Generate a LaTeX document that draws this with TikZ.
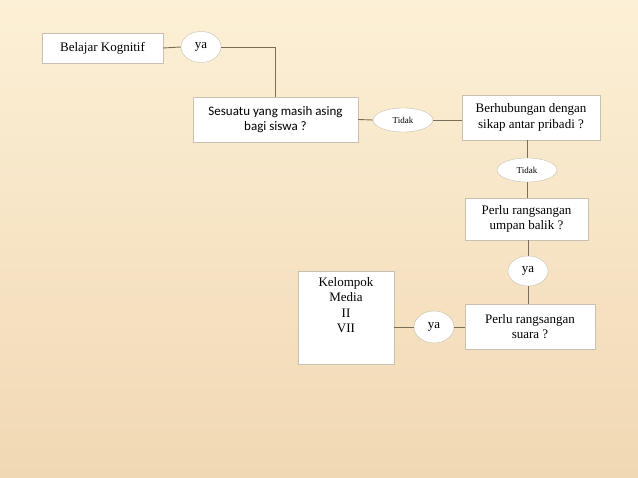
\documentclass[tikz,border=0pt]{standalone}
\usetikzlibrary{shapes.geometric}
\usepackage{fontspec}
\setmainfont{Liberation Serif}
\newfontfamily\tms{Liberation Serif}
\newfontfamily\calib{Carlito}
\definecolor{bgtop}{HTML}{FCF0D6}
\definecolor{bgbot}{HTML}{F1D8B4}
\definecolor{ln}{HTML}{7A6E58}
\definecolor{bd}{HTML}{C8C0B0}
\begin{document}
\begin{tikzpicture}[x=1pt,y=-1pt,
  box/.style={draw=bd,fill=white,align=center,font=\tms\fontsize{13}{15.5}\selectfont,inner sep=0pt},
  oval/.style={ellipse,draw=bd,fill=white,inner sep=0pt},
  con/.style={draw=ln,line width=0.9pt}]
\shade[top color=bgtop,bottom color=bgbot] (0,0) rectangle (638,478);
\useasboundingbox (0,0) rectangle (638,478);
\node[box,minimum width=121pt,minimum height=30pt] (bk) at (102.5,48) {Belajar Kognitif};
\node[oval,minimum width=40pt,minimum height=31pt,font=\tms\fontsize{13}{15}\selectfont] (ya1) at (201,47) {ya};
\node[box,minimum width=165pt,minimum height=45pt,font=\calib\fontsize{13}{15.5}\selectfont] (ses) at (275.5,119.5) {Sesuatu yang masih asing\\bagi siswa ?};
\node[oval,minimum width=60pt,minimum height=24pt,font=\tms\fontsize{9}{10}\selectfont] (t1) at (403,120) {Tidak};
\node[box,minimum width=138pt,minimum height=45pt] (ber) at (531,117.5) {Berhubungan dengan\\sikap antar pribadi ?};
\node[oval,minimum width=60pt,minimum height=24pt,font=\tms\fontsize{9}{10}\selectfont] (t2) at (527,170) {Tidak};
\node[box,minimum width=123pt,minimum height=42pt] (pu) at (526.5,219) {Perlu rangsangan\\umpan balik ?};
\node[oval,minimum width=40pt,minimum height=30pt,font=\tms\fontsize{13}{15}\selectfont] (ya2) at (528,271) {ya};
\node[box,minimum width=130pt,minimum height=45pt] (ps) at (530,326.5) {Perlu rangsangan\\suara ?};
\node[oval,minimum width=40pt,minimum height=32pt,font=\tms\fontsize{13}{15}\selectfont] (ya3) at (434,327) {ya};
\node[box,minimum width=96pt,minimum height=93pt,anchor=north,inner ysep=6pt] (kel) at (346,271) {Kelompok\\Media\\II\\VII\\[10pt]};
\draw[con] (bk.east) -- (ya1.west);
\draw[con] (ya1.east) -| (ses.north);
\draw[con] (ses.east) -- (t1.west);
\draw[con] (t1.east) -- (ber.west|-t1.east);
\draw[con] (t2.north) -- (t2.north|-ber.south);
\draw[con] (t2.south) -- (t2.south|-pu.north);
\draw[con] (ya2.north) -- (ya2.north|-pu.south);
\draw[con] (ya2.south) -- (ya2.south|-ps.north);
\draw[con] (ya3.east) -- (ps.west|-ya3.east);
\draw[con] (ya3.west) -- (kel.east|-ya3.west);
\end{tikzpicture}
\end{document}
